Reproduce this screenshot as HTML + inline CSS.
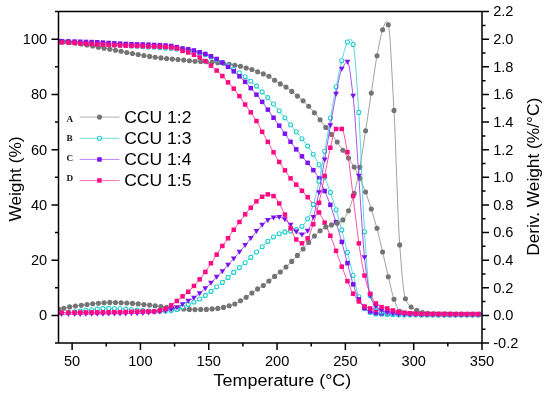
<!DOCTYPE html>
<html><head><meta charset="utf-8"><title>TGA</title>
<style>html,body{margin:0;padding:0;background:#fff}body{width:550px;height:394px;overflow:hidden}</style>
</head><body>
<svg width="550" height="394" viewBox="0 0 550 394" style="display:block">
<rect width="550" height="394" fill="#fff"/>
<defs><clipPath id="cp"><rect x="58.5" y="11.6" width="426.6" height="331.4"/></clipPath></defs>
<g clip-path="url(#cp)"><g transform="translate(0.3 0.3)">
<path d="M58.3 41.2 L64.6 41.6 L70.9 42.3 L77.2 43.0 L83.5 44.1 L89.8 45.2 L96.1 46.5 L102.2 47.6 L108.7 48.8 L115.0 49.9 L121.3 51.1 L127.6 52.4 L133.9 53.5 L140.2 54.6 L146.5 55.7 L152.8 56.6 L159.1 57.4 L165.4 58.3 L171.7 58.8 L178.0 59.3 L184.3 59.9 L190.6 60.6 L196.9 61.0 L203.2 61.3 L209.5 61.8 L215.8 62.3 L222.0 62.9 L228.4 63.8 L234.7 64.9 L241.0 66.1 L247.3 68.1 L252.2 69.4 L258.5 71.9 L264.8 74.3 L269.0 76.2 L275.3 80.6 L281.6 84.5 L286.5 87.3 L292.8 92.2 L299.1 97.4 L305.4 102.9 L311.7 109.6 L318.0 117.2 L324.3 125.5 L330.6 133.4 L336.9 141.7 L343.2 150.8 L349.5 159.7 L354.4 167.7 L360.0 178.9 L365.6 192.5 L371.9 211.7 L376.8 228.5 L383.1 255.0 L389.4 282.4 L392.2 294.0 L393.7 299.0 L396.4 306.2 L397.8 309.2 L398.5 310.3 L399.4 311.1 L402.0 312.2 L408.3 313.2 L414.6 313.6 L420.9 313.8 L427.2 313.9 L433.5 313.9 L439.8 313.9 L446.1 313.9 L452.4 314.0 L458.7 314.0 L465.0 314.0 L471.3 314.0 L477.6 314.0 L482.0 314.0" fill="none" stroke="#8a8a8a" stroke-width="0.8" stroke-linejoin="round"/>
<circle cx="58.3" cy="41.2" r="2.55" fill="#747474"/>
<circle cx="63.5" cy="41.5" r="2.55" fill="#747474"/>
<circle cx="69.3" cy="42.1" r="2.55" fill="#747474"/>
<circle cx="75.1" cy="42.8" r="2.55" fill="#747474"/>
<circle cx="81.0" cy="43.6" r="2.55" fill="#747474"/>
<circle cx="86.7" cy="44.7" r="2.55" fill="#747474"/>
<circle cx="92.4" cy="45.7" r="2.55" fill="#747474"/>
<circle cx="98.1" cy="46.9" r="2.55" fill="#747474"/>
<circle cx="103.8" cy="47.9" r="2.55" fill="#747474"/>
<circle cx="109.5" cy="48.9" r="2.55" fill="#747474"/>
<circle cx="115.2" cy="49.9" r="2.55" fill="#747474"/>
<circle cx="120.8" cy="51.0" r="2.55" fill="#747474"/>
<circle cx="126.5" cy="52.2" r="2.55" fill="#747474"/>
<circle cx="132.2" cy="53.2" r="2.55" fill="#747474"/>
<circle cx="137.9" cy="54.2" r="2.55" fill="#747474"/>
<circle cx="143.6" cy="55.2" r="2.55" fill="#747474"/>
<circle cx="149.3" cy="56.1" r="2.55" fill="#747474"/>
<circle cx="154.9" cy="56.9" r="2.55" fill="#747474"/>
<circle cx="160.6" cy="57.6" r="2.55" fill="#747474"/>
<circle cx="166.3" cy="58.3" r="2.55" fill="#747474"/>
<circle cx="172.0" cy="58.8" r="2.55" fill="#747474"/>
<circle cx="177.7" cy="59.3" r="2.55" fill="#747474"/>
<circle cx="183.4" cy="59.8" r="2.55" fill="#747474"/>
<circle cx="189.1" cy="60.4" r="2.55" fill="#747474"/>
<circle cx="194.7" cy="60.9" r="2.55" fill="#747474"/>
<circle cx="200.4" cy="61.2" r="2.55" fill="#747474"/>
<circle cx="206.1" cy="61.5" r="2.55" fill="#747474"/>
<circle cx="211.8" cy="62.0" r="2.55" fill="#747474"/>
<circle cx="217.5" cy="62.5" r="2.55" fill="#747474"/>
<circle cx="223.2" cy="63.0" r="2.55" fill="#747474"/>
<circle cx="228.9" cy="63.9" r="2.55" fill="#747474"/>
<circle cx="234.5" cy="64.9" r="2.55" fill="#747474"/>
<circle cx="240.2" cy="65.9" r="2.55" fill="#747474"/>
<circle cx="245.9" cy="67.7" r="2.55" fill="#747474"/>
<circle cx="251.6" cy="69.2" r="2.55" fill="#747474"/>
<circle cx="257.3" cy="71.5" r="2.55" fill="#747474"/>
<circle cx="263.0" cy="73.6" r="2.55" fill="#747474"/>
<circle cx="268.6" cy="76.0" r="2.55" fill="#747474"/>
<circle cx="274.3" cy="80.0" r="2.55" fill="#747474"/>
<circle cx="280.0" cy="83.6" r="2.55" fill="#747474"/>
<circle cx="285.7" cy="86.8" r="2.55" fill="#747474"/>
<circle cx="291.4" cy="91.1" r="2.55" fill="#747474"/>
<circle cx="297.1" cy="95.8" r="2.55" fill="#747474"/>
<circle cx="302.8" cy="100.5" r="2.55" fill="#747474"/>
<circle cx="308.4" cy="106.0" r="2.55" fill="#747474"/>
<circle cx="314.1" cy="112.5" r="2.55" fill="#747474"/>
<circle cx="319.8" cy="119.5" r="2.55" fill="#747474"/>
<circle cx="325.5" cy="127.1" r="2.55" fill="#747474"/>
<circle cx="331.2" cy="134.1" r="2.55" fill="#747474"/>
<circle cx="336.9" cy="141.7" r="2.55" fill="#747474"/>
<circle cx="342.6" cy="149.9" r="2.55" fill="#747474"/>
<circle cx="348.2" cy="157.8" r="2.55" fill="#747474"/>
<circle cx="353.9" cy="166.8" r="2.55" fill="#747474"/>
<circle cx="359.6" cy="178.0" r="2.55" fill="#747474"/>
<circle cx="365.3" cy="191.7" r="2.55" fill="#747474"/>
<circle cx="371.0" cy="208.7" r="2.55" fill="#747474"/>
<circle cx="376.7" cy="228.0" r="2.55" fill="#747474"/>
<circle cx="382.3" cy="251.7" r="2.55" fill="#747474"/>
<circle cx="388.0" cy="276.5" r="2.55" fill="#747474"/>
<circle cx="393.7" cy="299.0" r="2.55" fill="#747474"/>
<circle cx="399.4" cy="311.1" r="2.55" fill="#747474"/>
<circle cx="405.1" cy="312.9" r="2.55" fill="#747474"/>
<circle cx="410.8" cy="313.4" r="2.55" fill="#747474"/>
<circle cx="416.5" cy="313.7" r="2.55" fill="#747474"/>
<circle cx="422.1" cy="313.8" r="2.55" fill="#747474"/>
<circle cx="427.8" cy="313.9" r="2.55" fill="#747474"/>
<circle cx="433.5" cy="313.9" r="2.55" fill="#747474"/>
<circle cx="439.2" cy="313.9" r="2.55" fill="#747474"/>
<circle cx="444.9" cy="313.9" r="2.55" fill="#747474"/>
<circle cx="450.6" cy="314.0" r="2.55" fill="#747474"/>
<circle cx="456.3" cy="314.0" r="2.55" fill="#747474"/>
<circle cx="461.9" cy="314.0" r="2.55" fill="#747474"/>
<circle cx="467.6" cy="314.0" r="2.55" fill="#747474"/>
<circle cx="473.3" cy="314.0" r="2.55" fill="#747474"/>
<circle cx="479.0" cy="314.0" r="2.55" fill="#747474"/>
<path d="M58.5 41.5 L64.8 41.5 L71.1 41.7 L77.4 42.1 L83.7 42.5 L90.0 43.1 L96.3 43.6 L102.6 44.0 L108.9 44.3 L115.2 44.7 L121.5 45.1 L127.8 45.5 L134.1 45.8 L140.4 46.2 L146.7 46.6 L153.0 47.0 L159.3 47.4 L165.6 47.8 L171.9 48.3 L178.2 48.8 L184.5 49.6 L190.8 50.6 L197.1 52.0 L203.4 53.9 L209.7 56.4 L216.0 59.3 L222.3 62.3 L228.6 65.7 L234.9 69.9 L241.2 73.8 L247.5 78.6 L253.8 83.7 L260.1 89.8 L266.4 96.1 L272.7 103.1 L278.9 110.5 L285.3 118.4 L291.6 126.0 L297.9 133.8 L304.2 141.7 L310.5 150.2 L314.7 156.8 L321.0 169.3 L326.6 182.6 L332.9 200.4 L339.2 221.3 L345.5 245.5 L351.8 271.0 L356.7 290.7 L358.8 297.3 L360.9 302.5 L362.3 305.3 L363.7 307.5 L365.8 309.6 L367.9 311.1 L372.1 312.9 L374.9 313.5 L381.2 313.9 L387.5 314.2 L393.8 314.3 L400.1 314.3 L406.4 314.3 L412.7 314.3 L419.0 314.4 L425.3 314.4 L431.6 314.4 L437.9 314.4 L444.2 314.4 L450.5 314.4 L456.8 314.4 L463.1 314.4 L469.4 314.4 L475.7 314.4 L482.0 314.4 L482.0 314.4" fill="none" stroke="#30d0d0" stroke-width="0.8" stroke-linejoin="round"/>
<circle cx="61.2" cy="41.5" r="2.0" fill="#fff" stroke="#1fcfcf" stroke-width="1.1"/>
<circle cx="68.1" cy="41.6" r="2.0" fill="#fff" stroke="#1fcfcf" stroke-width="1.1"/>
<circle cx="74.3" cy="41.9" r="2.0" fill="#fff" stroke="#1fcfcf" stroke-width="1.1"/>
<circle cx="79.9" cy="42.3" r="2.0" fill="#fff" stroke="#1fcfcf" stroke-width="1.1"/>
<circle cx="85.6" cy="42.7" r="2.0" fill="#fff" stroke="#1fcfcf" stroke-width="1.1"/>
<circle cx="91.3" cy="43.2" r="2.0" fill="#fff" stroke="#1fcfcf" stroke-width="1.1"/>
<circle cx="97.0" cy="43.6" r="2.0" fill="#fff" stroke="#1fcfcf" stroke-width="1.1"/>
<circle cx="102.7" cy="44.0" r="2.0" fill="#fff" stroke="#1fcfcf" stroke-width="1.1"/>
<circle cx="108.4" cy="44.3" r="2.0" fill="#fff" stroke="#1fcfcf" stroke-width="1.1"/>
<circle cx="114.1" cy="44.6" r="2.0" fill="#fff" stroke="#1fcfcf" stroke-width="1.1"/>
<circle cx="119.7" cy="45.0" r="2.0" fill="#fff" stroke="#1fcfcf" stroke-width="1.1"/>
<circle cx="125.4" cy="45.3" r="2.0" fill="#fff" stroke="#1fcfcf" stroke-width="1.1"/>
<circle cx="131.1" cy="45.7" r="2.0" fill="#fff" stroke="#1fcfcf" stroke-width="1.1"/>
<circle cx="136.8" cy="46.0" r="2.0" fill="#fff" stroke="#1fcfcf" stroke-width="1.1"/>
<circle cx="142.5" cy="46.4" r="2.0" fill="#fff" stroke="#1fcfcf" stroke-width="1.1"/>
<circle cx="148.2" cy="46.7" r="2.0" fill="#fff" stroke="#1fcfcf" stroke-width="1.1"/>
<circle cx="153.8" cy="47.0" r="2.0" fill="#fff" stroke="#1fcfcf" stroke-width="1.1"/>
<circle cx="159.5" cy="47.4" r="2.0" fill="#fff" stroke="#1fcfcf" stroke-width="1.1"/>
<circle cx="165.2" cy="47.8" r="2.0" fill="#fff" stroke="#1fcfcf" stroke-width="1.1"/>
<circle cx="170.9" cy="48.2" r="2.0" fill="#fff" stroke="#1fcfcf" stroke-width="1.1"/>
<circle cx="176.6" cy="48.7" r="2.0" fill="#fff" stroke="#1fcfcf" stroke-width="1.1"/>
<circle cx="182.3" cy="49.3" r="2.0" fill="#fff" stroke="#1fcfcf" stroke-width="1.1"/>
<circle cx="188.0" cy="50.1" r="2.0" fill="#fff" stroke="#1fcfcf" stroke-width="1.1"/>
<circle cx="193.6" cy="51.2" r="2.0" fill="#fff" stroke="#1fcfcf" stroke-width="1.1"/>
<circle cx="199.3" cy="52.7" r="2.0" fill="#fff" stroke="#1fcfcf" stroke-width="1.1"/>
<circle cx="205.0" cy="54.5" r="2.0" fill="#fff" stroke="#1fcfcf" stroke-width="1.1"/>
<circle cx="210.7" cy="56.8" r="2.0" fill="#fff" stroke="#1fcfcf" stroke-width="1.1"/>
<circle cx="216.4" cy="59.5" r="2.0" fill="#fff" stroke="#1fcfcf" stroke-width="1.1"/>
<circle cx="222.1" cy="62.2" r="2.0" fill="#fff" stroke="#1fcfcf" stroke-width="1.1"/>
<circle cx="227.8" cy="65.2" r="2.0" fill="#fff" stroke="#1fcfcf" stroke-width="1.1"/>
<circle cx="233.4" cy="69.0" r="2.0" fill="#fff" stroke="#1fcfcf" stroke-width="1.1"/>
<circle cx="239.1" cy="72.4" r="2.0" fill="#fff" stroke="#1fcfcf" stroke-width="1.1"/>
<circle cx="244.8" cy="76.5" r="2.0" fill="#fff" stroke="#1fcfcf" stroke-width="1.1"/>
<circle cx="250.5" cy="81.0" r="2.0" fill="#fff" stroke="#1fcfcf" stroke-width="1.1"/>
<circle cx="256.2" cy="85.8" r="2.0" fill="#fff" stroke="#1fcfcf" stroke-width="1.1"/>
<circle cx="261.9" cy="91.6" r="2.0" fill="#fff" stroke="#1fcfcf" stroke-width="1.1"/>
<circle cx="267.5" cy="97.3" r="2.0" fill="#fff" stroke="#1fcfcf" stroke-width="1.1"/>
<circle cx="273.2" cy="103.7" r="2.0" fill="#fff" stroke="#1fcfcf" stroke-width="1.1"/>
<circle cx="278.9" cy="110.5" r="2.0" fill="#fff" stroke="#1fcfcf" stroke-width="1.1"/>
<circle cx="284.6" cy="117.5" r="2.0" fill="#fff" stroke="#1fcfcf" stroke-width="1.1"/>
<circle cx="290.3" cy="124.4" r="2.0" fill="#fff" stroke="#1fcfcf" stroke-width="1.1"/>
<circle cx="296.0" cy="131.4" r="2.0" fill="#fff" stroke="#1fcfcf" stroke-width="1.1"/>
<circle cx="301.7" cy="138.5" r="2.0" fill="#fff" stroke="#1fcfcf" stroke-width="1.1"/>
<circle cx="307.3" cy="145.8" r="2.0" fill="#fff" stroke="#1fcfcf" stroke-width="1.1"/>
<circle cx="313.0" cy="154.0" r="2.0" fill="#fff" stroke="#1fcfcf" stroke-width="1.1"/>
<circle cx="318.7" cy="164.5" r="2.0" fill="#fff" stroke="#1fcfcf" stroke-width="1.1"/>
<circle cx="324.4" cy="177.0" r="2.0" fill="#fff" stroke="#1fcfcf" stroke-width="1.1"/>
<circle cx="330.1" cy="192.1" r="2.0" fill="#fff" stroke="#1fcfcf" stroke-width="1.1"/>
<circle cx="335.8" cy="209.5" r="2.0" fill="#fff" stroke="#1fcfcf" stroke-width="1.1"/>
<circle cx="341.5" cy="229.6" r="2.0" fill="#fff" stroke="#1fcfcf" stroke-width="1.1"/>
<circle cx="347.1" cy="252.1" r="2.0" fill="#fff" stroke="#1fcfcf" stroke-width="1.1"/>
<circle cx="352.8" cy="275.0" r="2.0" fill="#fff" stroke="#1fcfcf" stroke-width="1.1"/>
<circle cx="358.5" cy="296.5" r="2.0" fill="#fff" stroke="#1fcfcf" stroke-width="1.1"/>
<circle cx="364.2" cy="308.1" r="2.0" fill="#fff" stroke="#1fcfcf" stroke-width="1.1"/>
<circle cx="369.9" cy="312.1" r="2.0" fill="#fff" stroke="#1fcfcf" stroke-width="1.1"/>
<circle cx="375.6" cy="313.6" r="2.0" fill="#fff" stroke="#1fcfcf" stroke-width="1.1"/>
<circle cx="381.2" cy="314.0" r="2.0" fill="#fff" stroke="#1fcfcf" stroke-width="1.1"/>
<circle cx="386.9" cy="314.2" r="2.0" fill="#fff" stroke="#1fcfcf" stroke-width="1.1"/>
<circle cx="392.6" cy="314.3" r="2.0" fill="#fff" stroke="#1fcfcf" stroke-width="1.1"/>
<circle cx="398.3" cy="314.3" r="2.0" fill="#fff" stroke="#1fcfcf" stroke-width="1.1"/>
<circle cx="404.0" cy="314.3" r="2.0" fill="#fff" stroke="#1fcfcf" stroke-width="1.1"/>
<circle cx="409.7" cy="314.3" r="2.0" fill="#fff" stroke="#1fcfcf" stroke-width="1.1"/>
<circle cx="415.4" cy="314.3" r="2.0" fill="#fff" stroke="#1fcfcf" stroke-width="1.1"/>
<circle cx="421.0" cy="314.4" r="2.0" fill="#fff" stroke="#1fcfcf" stroke-width="1.1"/>
<circle cx="426.7" cy="314.4" r="2.0" fill="#fff" stroke="#1fcfcf" stroke-width="1.1"/>
<circle cx="432.4" cy="314.4" r="2.0" fill="#fff" stroke="#1fcfcf" stroke-width="1.1"/>
<circle cx="438.1" cy="314.4" r="2.0" fill="#fff" stroke="#1fcfcf" stroke-width="1.1"/>
<circle cx="443.8" cy="314.4" r="2.0" fill="#fff" stroke="#1fcfcf" stroke-width="1.1"/>
<circle cx="449.5" cy="314.4" r="2.0" fill="#fff" stroke="#1fcfcf" stroke-width="1.1"/>
<circle cx="455.2" cy="314.4" r="2.0" fill="#fff" stroke="#1fcfcf" stroke-width="1.1"/>
<circle cx="460.8" cy="314.4" r="2.0" fill="#fff" stroke="#1fcfcf" stroke-width="1.1"/>
<circle cx="466.5" cy="314.4" r="2.0" fill="#fff" stroke="#1fcfcf" stroke-width="1.1"/>
<circle cx="472.2" cy="314.4" r="2.0" fill="#fff" stroke="#1fcfcf" stroke-width="1.1"/>
<circle cx="477.9" cy="314.4" r="2.0" fill="#fff" stroke="#1fcfcf" stroke-width="1.1"/>
<path d="M58.5 40.8 L64.8 40.9 L71.1 41.1 L77.4 41.3 L83.7 41.5 L90.0 41.7 L96.3 41.9 L102.6 42.2 L108.9 42.7 L115.2 43.1 L121.5 43.5 L127.8 43.7 L134.1 43.9 L140.4 44.1 L146.7 44.3 L153.0 44.6 L159.3 44.8 L165.6 45.2 L171.9 45.7 L178.2 47.2 L184.5 48.4 L190.8 49.4 L197.1 51.2 L203.4 53.1 L209.7 55.5 L216.0 58.4 L222.1 62.2 L228.6 67.1 L234.9 72.2 L241.2 77.9 L247.5 84.4 L253.8 91.5 L260.1 99.2 L266.4 107.7 L272.7 116.7 L278.9 125.3 L285.3 134.4 L291.6 143.3 L297.9 151.4 L304.2 158.9 L310.5 166.5 L316.8 174.9 L318.9 178.3 L325.2 192.6 L330.1 204.6 L336.4 223.9 L342.7 246.2 L349.0 270.0 L351.8 280.6 L355.3 291.3 L357.4 296.7 L360.2 302.2 L362.3 305.5 L363.7 307.2 L365.8 309.0 L368.6 310.6 L373.5 312.2 L379.8 313.0 L386.1 313.4 L392.4 313.6 L398.7 313.6 L405.0 313.7 L411.3 313.7 L417.6 313.7 L423.9 313.8 L430.2 313.8 L436.5 313.8 L442.8 313.8 L449.1 313.9 L455.4 313.9 L461.7 313.9 L468.0 313.9 L474.3 313.9 L480.6 313.9 L482.0 313.9" fill="none" stroke="#8a2cf2" stroke-width="0.8" stroke-linejoin="round"/>
<rect x="59.0" y="38.6" width="4.5" height="4.5" fill="#7d12f0"/>
<rect x="65.8" y="38.8" width="4.5" height="4.5" fill="#7d12f0"/>
<rect x="72.0" y="39.0" width="4.5" height="4.5" fill="#7d12f0"/>
<rect x="77.7" y="39.2" width="4.5" height="4.5" fill="#7d12f0"/>
<rect x="83.4" y="39.4" width="4.5" height="4.5" fill="#7d12f0"/>
<rect x="89.1" y="39.5" width="4.5" height="4.5" fill="#7d12f0"/>
<rect x="94.7" y="39.7" width="4.5" height="4.5" fill="#7d12f0"/>
<rect x="100.4" y="40.0" width="4.5" height="4.5" fill="#7d12f0"/>
<rect x="106.1" y="40.4" width="4.5" height="4.5" fill="#7d12f0"/>
<rect x="111.8" y="40.8" width="4.5" height="4.5" fill="#7d12f0"/>
<rect x="117.5" y="41.1" width="4.5" height="4.5" fill="#7d12f0"/>
<rect x="123.2" y="41.4" width="4.5" height="4.5" fill="#7d12f0"/>
<rect x="128.9" y="41.6" width="4.5" height="4.5" fill="#7d12f0"/>
<rect x="134.5" y="41.8" width="4.5" height="4.5" fill="#7d12f0"/>
<rect x="140.2" y="41.9" width="4.5" height="4.5" fill="#7d12f0"/>
<rect x="145.9" y="42.1" width="4.5" height="4.5" fill="#7d12f0"/>
<rect x="151.6" y="42.4" width="4.5" height="4.5" fill="#7d12f0"/>
<rect x="157.3" y="42.6" width="4.5" height="4.5" fill="#7d12f0"/>
<rect x="163.0" y="42.9" width="4.5" height="4.5" fill="#7d12f0"/>
<rect x="168.7" y="43.4" width="4.5" height="4.5" fill="#7d12f0"/>
<rect x="174.3" y="44.6" width="4.5" height="4.5" fill="#7d12f0"/>
<rect x="180.0" y="45.9" width="4.5" height="4.5" fill="#7d12f0"/>
<rect x="185.7" y="46.7" width="4.5" height="4.5" fill="#7d12f0"/>
<rect x="191.4" y="47.9" width="4.5" height="4.5" fill="#7d12f0"/>
<rect x="197.1" y="49.7" width="4.5" height="4.5" fill="#7d12f0"/>
<rect x="202.8" y="51.4" width="4.5" height="4.5" fill="#7d12f0"/>
<rect x="208.4" y="53.7" width="4.5" height="4.5" fill="#7d12f0"/>
<rect x="214.1" y="56.4" width="4.5" height="4.5" fill="#7d12f0"/>
<rect x="219.8" y="60.0" width="4.5" height="4.5" fill="#7d12f0"/>
<rect x="225.5" y="64.2" width="4.5" height="4.5" fill="#7d12f0"/>
<rect x="231.2" y="68.8" width="4.5" height="4.5" fill="#7d12f0"/>
<rect x="236.9" y="73.8" width="4.5" height="4.5" fill="#7d12f0"/>
<rect x="242.6" y="79.3" width="4.5" height="4.5" fill="#7d12f0"/>
<rect x="248.2" y="85.6" width="4.5" height="4.5" fill="#7d12f0"/>
<rect x="253.9" y="92.1" width="4.5" height="4.5" fill="#7d12f0"/>
<rect x="259.6" y="99.3" width="4.5" height="4.5" fill="#7d12f0"/>
<rect x="265.3" y="107.1" width="4.5" height="4.5" fill="#7d12f0"/>
<rect x="271.0" y="115.2" width="4.5" height="4.5" fill="#7d12f0"/>
<rect x="276.7" y="123.1" width="4.5" height="4.5" fill="#7d12f0"/>
<rect x="282.4" y="131.2" width="4.5" height="4.5" fill="#7d12f0"/>
<rect x="288.0" y="139.3" width="4.5" height="4.5" fill="#7d12f0"/>
<rect x="293.7" y="146.8" width="4.5" height="4.5" fill="#7d12f0"/>
<rect x="299.4" y="153.8" width="4.5" height="4.5" fill="#7d12f0"/>
<rect x="305.1" y="160.3" width="4.5" height="4.5" fill="#7d12f0"/>
<rect x="310.8" y="167.6" width="4.5" height="4.5" fill="#7d12f0"/>
<rect x="316.5" y="175.8" width="4.5" height="4.5" fill="#7d12f0"/>
<rect x="322.1" y="188.5" width="4.5" height="4.5" fill="#7d12f0"/>
<rect x="327.8" y="202.3" width="4.5" height="4.5" fill="#7d12f0"/>
<rect x="333.5" y="219.6" width="4.5" height="4.5" fill="#7d12f0"/>
<rect x="339.2" y="239.4" width="4.5" height="4.5" fill="#7d12f0"/>
<rect x="344.9" y="260.6" width="4.5" height="4.5" fill="#7d12f0"/>
<rect x="350.6" y="281.8" width="4.5" height="4.5" fill="#7d12f0"/>
<rect x="356.3" y="296.8" width="4.5" height="4.5" fill="#7d12f0"/>
<rect x="361.9" y="305.5" width="4.5" height="4.5" fill="#7d12f0"/>
<rect x="367.6" y="308.9" width="4.5" height="4.5" fill="#7d12f0"/>
<rect x="373.3" y="310.4" width="4.5" height="4.5" fill="#7d12f0"/>
<rect x="379.0" y="310.8" width="4.5" height="4.5" fill="#7d12f0"/>
<rect x="384.7" y="311.1" width="4.5" height="4.5" fill="#7d12f0"/>
<rect x="390.4" y="311.3" width="4.5" height="4.5" fill="#7d12f0"/>
<rect x="396.1" y="311.4" width="4.5" height="4.5" fill="#7d12f0"/>
<rect x="401.7" y="311.4" width="4.5" height="4.5" fill="#7d12f0"/>
<rect x="407.4" y="311.5" width="4.5" height="4.5" fill="#7d12f0"/>
<rect x="413.1" y="311.5" width="4.5" height="4.5" fill="#7d12f0"/>
<rect x="418.8" y="311.5" width="4.5" height="4.5" fill="#7d12f0"/>
<rect x="424.5" y="311.5" width="4.5" height="4.5" fill="#7d12f0"/>
<rect x="430.2" y="311.6" width="4.5" height="4.5" fill="#7d12f0"/>
<rect x="435.8" y="311.6" width="4.5" height="4.5" fill="#7d12f0"/>
<rect x="441.5" y="311.6" width="4.5" height="4.5" fill="#7d12f0"/>
<rect x="447.2" y="311.6" width="4.5" height="4.5" fill="#7d12f0"/>
<rect x="452.9" y="311.6" width="4.5" height="4.5" fill="#7d12f0"/>
<rect x="458.6" y="311.6" width="4.5" height="4.5" fill="#7d12f0"/>
<rect x="464.3" y="311.6" width="4.5" height="4.5" fill="#7d12f0"/>
<rect x="470.0" y="311.6" width="4.5" height="4.5" fill="#7d12f0"/>
<rect x="475.6" y="311.6" width="4.5" height="4.5" fill="#7d12f0"/>
<path d="M58.5 42.1 L64.8 42.1 L71.1 42.4 L77.4 42.8 L83.7 43.3 L90.0 43.7 L96.3 44.1 L102.6 44.4 L108.9 44.7 L115.2 44.9 L121.5 45.2 L127.8 45.4 L134.1 45.6 L140.4 45.8 L146.7 46.0 L153.0 46.3 L159.3 46.5 L165.6 46.8 L171.9 47.2 L176.8 48.2 L182.4 50.6 L188.7 52.4 L195.0 55.0 L201.3 58.2 L207.6 62.7 L213.9 68.0 L220.2 73.8 L226.5 80.6 L232.8 87.5 L239.1 95.8 L245.4 105.0 L251.7 113.8 L256.6 121.4 L262.9 133.3 L269.2 144.6 L275.5 156.0 L281.8 166.0 L288.1 175.1 L292.3 180.4 L298.6 187.1 L304.9 194.0 L311.2 201.7 L317.5 210.3 L322.4 218.4 L326.6 227.1 L332.9 242.7 L339.2 260.1 L345.5 276.8 L351.1 290.1 L353.2 294.0 L356.0 298.1 L360.9 303.6 L363.0 305.4 L365.1 306.5 L371.4 308.5 L377.7 309.9 L384.0 310.9 L390.3 311.6 L396.6 312.1 L402.9 312.7 L409.2 313.1 L415.5 313.5 L421.8 313.6 L428.1 313.7 L434.4 313.7 L440.7 313.8 L447.0 313.8 L453.3 313.8 L459.6 313.9 L465.9 313.9 L472.2 313.9 L478.5 313.9 L482.0 313.9" fill="none" stroke="#ff2a90" stroke-width="0.8" stroke-linejoin="round"/>
<rect x="59.0" y="39.9" width="4.5" height="4.5" fill="#ff0a84"/>
<rect x="65.8" y="40.0" width="4.5" height="4.5" fill="#ff0a84"/>
<rect x="72.0" y="40.3" width="4.5" height="4.5" fill="#ff0a84"/>
<rect x="77.7" y="40.8" width="4.5" height="4.5" fill="#ff0a84"/>
<rect x="83.4" y="41.1" width="4.5" height="4.5" fill="#ff0a84"/>
<rect x="89.1" y="41.5" width="4.5" height="4.5" fill="#ff0a84"/>
<rect x="94.7" y="41.8" width="4.5" height="4.5" fill="#ff0a84"/>
<rect x="100.4" y="42.1" width="4.5" height="4.5" fill="#ff0a84"/>
<rect x="106.1" y="42.4" width="4.5" height="4.5" fill="#ff0a84"/>
<rect x="111.8" y="42.6" width="4.5" height="4.5" fill="#ff0a84"/>
<rect x="117.5" y="42.9" width="4.5" height="4.5" fill="#ff0a84"/>
<rect x="123.2" y="43.1" width="4.5" height="4.5" fill="#ff0a84"/>
<rect x="128.9" y="43.3" width="4.5" height="4.5" fill="#ff0a84"/>
<rect x="134.5" y="43.4" width="4.5" height="4.5" fill="#ff0a84"/>
<rect x="140.2" y="43.6" width="4.5" height="4.5" fill="#ff0a84"/>
<rect x="145.9" y="43.9" width="4.5" height="4.5" fill="#ff0a84"/>
<rect x="151.6" y="44.0" width="4.5" height="4.5" fill="#ff0a84"/>
<rect x="157.3" y="44.2" width="4.5" height="4.5" fill="#ff0a84"/>
<rect x="163.0" y="44.5" width="4.5" height="4.5" fill="#ff0a84"/>
<rect x="168.7" y="44.9" width="4.5" height="4.5" fill="#ff0a84"/>
<rect x="174.3" y="45.9" width="4.5" height="4.5" fill="#ff0a84"/>
<rect x="180.0" y="48.4" width="4.5" height="4.5" fill="#ff0a84"/>
<rect x="185.7" y="49.9" width="4.5" height="4.5" fill="#ff0a84"/>
<rect x="191.4" y="52.2" width="4.5" height="4.5" fill="#ff0a84"/>
<rect x="197.1" y="54.9" width="4.5" height="4.5" fill="#ff0a84"/>
<rect x="202.8" y="58.5" width="4.5" height="4.5" fill="#ff0a84"/>
<rect x="208.4" y="63.0" width="4.5" height="4.5" fill="#ff0a84"/>
<rect x="214.1" y="68.0" width="4.5" height="4.5" fill="#ff0a84"/>
<rect x="219.8" y="73.5" width="4.5" height="4.5" fill="#ff0a84"/>
<rect x="225.5" y="79.8" width="4.5" height="4.5" fill="#ff0a84"/>
<rect x="231.2" y="86.1" width="4.5" height="4.5" fill="#ff0a84"/>
<rect x="236.9" y="93.6" width="4.5" height="4.5" fill="#ff0a84"/>
<rect x="242.6" y="102.0" width="4.5" height="4.5" fill="#ff0a84"/>
<rect x="248.2" y="109.8" width="4.5" height="4.5" fill="#ff0a84"/>
<rect x="253.9" y="118.5" width="4.5" height="4.5" fill="#ff0a84"/>
<rect x="259.6" y="129.2" width="4.5" height="4.5" fill="#ff0a84"/>
<rect x="265.3" y="139.3" width="4.5" height="4.5" fill="#ff0a84"/>
<rect x="271.0" y="149.8" width="4.5" height="4.5" fill="#ff0a84"/>
<rect x="276.7" y="159.4" width="4.5" height="4.5" fill="#ff0a84"/>
<rect x="282.4" y="167.8" width="4.5" height="4.5" fill="#ff0a84"/>
<rect x="288.0" y="175.8" width="4.5" height="4.5" fill="#ff0a84"/>
<rect x="293.7" y="182.1" width="4.5" height="4.5" fill="#ff0a84"/>
<rect x="299.4" y="188.2" width="4.5" height="4.5" fill="#ff0a84"/>
<rect x="305.1" y="194.6" width="4.5" height="4.5" fill="#ff0a84"/>
<rect x="310.8" y="201.9" width="4.5" height="4.5" fill="#ff0a84"/>
<rect x="316.5" y="209.9" width="4.5" height="4.5" fill="#ff0a84"/>
<rect x="322.1" y="220.1" width="4.5" height="4.5" fill="#ff0a84"/>
<rect x="327.8" y="233.2" width="4.5" height="4.5" fill="#ff0a84"/>
<rect x="333.5" y="248.3" width="4.5" height="4.5" fill="#ff0a84"/>
<rect x="339.2" y="264.1" width="4.5" height="4.5" fill="#ff0a84"/>
<rect x="344.9" y="278.6" width="4.5" height="4.5" fill="#ff0a84"/>
<rect x="350.6" y="291.2" width="4.5" height="4.5" fill="#ff0a84"/>
<rect x="356.3" y="298.9" width="4.5" height="4.5" fill="#ff0a84"/>
<rect x="361.9" y="303.9" width="4.5" height="4.5" fill="#ff0a84"/>
<rect x="367.6" y="305.9" width="4.5" height="4.5" fill="#ff0a84"/>
<rect x="373.3" y="307.3" width="4.5" height="4.5" fill="#ff0a84"/>
<rect x="379.0" y="308.2" width="4.5" height="4.5" fill="#ff0a84"/>
<rect x="384.7" y="309.0" width="4.5" height="4.5" fill="#ff0a84"/>
<rect x="390.4" y="309.5" width="4.5" height="4.5" fill="#ff0a84"/>
<rect x="396.1" y="310.0" width="4.5" height="4.5" fill="#ff0a84"/>
<rect x="401.7" y="310.5" width="4.5" height="4.5" fill="#ff0a84"/>
<rect x="407.4" y="310.9" width="4.5" height="4.5" fill="#ff0a84"/>
<rect x="413.1" y="311.2" width="4.5" height="4.5" fill="#ff0a84"/>
<rect x="418.8" y="311.4" width="4.5" height="4.5" fill="#ff0a84"/>
<rect x="424.5" y="311.4" width="4.5" height="4.5" fill="#ff0a84"/>
<rect x="430.2" y="311.5" width="4.5" height="4.5" fill="#ff0a84"/>
<rect x="435.8" y="311.5" width="4.5" height="4.5" fill="#ff0a84"/>
<rect x="441.5" y="311.5" width="4.5" height="4.5" fill="#ff0a84"/>
<rect x="447.2" y="311.6" width="4.5" height="4.5" fill="#ff0a84"/>
<rect x="452.9" y="311.6" width="4.5" height="4.5" fill="#ff0a84"/>
<rect x="458.6" y="311.6" width="4.5" height="4.5" fill="#ff0a84"/>
<rect x="464.3" y="311.6" width="4.5" height="4.5" fill="#ff0a84"/>
<rect x="470.0" y="311.6" width="4.5" height="4.5" fill="#ff0a84"/>
<rect x="475.6" y="311.6" width="4.5" height="4.5" fill="#ff0a84"/>
<path d="M58.3 308.8 L64.6 307.7 L70.9 306.3 L77.2 305.5 L83.5 304.7 L89.8 303.8 L96.1 303.2 L102.4 302.6 L108.7 302.1 L115.0 302.2 L121.3 302.4 L127.6 302.7 L133.9 303.2 L140.2 303.9 L146.5 304.5 L152.8 305.2 L159.1 306.0 L165.4 307.0 L171.7 307.7 L178.0 308.1 L184.3 308.8 L190.6 309.2 L196.9 309.2 L203.2 309.1 L209.5 308.8 L215.8 308.3 L222.1 307.3 L228.4 305.5 L234.5 303.7 L241.0 300.1 L247.3 295.9 L253.6 291.2 L259.9 287.1 L264.1 284.4 L270.4 279.3 L276.7 274.3 L283.0 269.1 L289.3 263.2 L295.6 256.7 L301.9 249.7 L308.2 242.4 L314.5 235.3 L320.1 230.2 L324.3 227.2 L330.6 224.8 L336.9 223.0 L339.7 221.7 L341.8 220.2 L343.2 219.0 L344.6 217.2 L346.7 213.6 L348.8 209.2 L350.9 203.5 L354.4 191.3 L357.2 179.2 L360.0 164.8 L366.3 123.9 L372.6 81.7 L376.1 58.6 L379.6 40.2 L381.0 34.0 L382.4 29.2 L384.5 23.2 L385.2 21.8 L385.9 21.1 L386.2 21.0 L386.6 21.2 L387.3 22.4 L388.0 24.4 L388.7 27.9 L389.4 34.6 L390.1 43.8 L394.3 122.0 L397.8 213.4 L398.5 229.1 L399.4 244.6 L401.3 269.0 L402.7 283.9 L403.4 289.8 L404.1 294.4 L404.8 297.6 L405.5 299.5 L406.9 302.2 L408.3 304.3 L411.1 307.0 L413.9 308.8 L420.2 311.7 L426.5 313.2 L432.8 313.6 L439.1 313.7 L445.4 313.8 L451.7 313.9 L458.0 313.9 L464.3 314.0 L470.6 314.0 L476.9 314.0 L482.0 314.0" fill="none" stroke="#8a8a8a" stroke-width="0.8" stroke-linejoin="round"/>
<circle cx="58.3" cy="308.8" r="2.55" fill="#747474"/>
<circle cx="63.5" cy="307.9" r="2.55" fill="#747474"/>
<circle cx="69.3" cy="306.6" r="2.55" fill="#747474"/>
<circle cx="75.1" cy="305.7" r="2.55" fill="#747474"/>
<circle cx="81.0" cy="305.0" r="2.55" fill="#747474"/>
<circle cx="86.7" cy="304.2" r="2.55" fill="#747474"/>
<circle cx="92.4" cy="303.5" r="2.55" fill="#747474"/>
<circle cx="98.1" cy="303.0" r="2.55" fill="#747474"/>
<circle cx="103.8" cy="302.5" r="2.55" fill="#747474"/>
<circle cx="109.5" cy="302.1" r="2.55" fill="#747474"/>
<circle cx="115.2" cy="302.2" r="2.55" fill="#747474"/>
<circle cx="120.8" cy="302.4" r="2.55" fill="#747474"/>
<circle cx="126.5" cy="302.7" r="2.55" fill="#747474"/>
<circle cx="132.2" cy="303.1" r="2.55" fill="#747474"/>
<circle cx="137.9" cy="303.6" r="2.55" fill="#747474"/>
<circle cx="143.6" cy="304.2" r="2.55" fill="#747474"/>
<circle cx="149.3" cy="304.8" r="2.55" fill="#747474"/>
<circle cx="154.9" cy="305.5" r="2.55" fill="#747474"/>
<circle cx="160.6" cy="306.2" r="2.55" fill="#747474"/>
<circle cx="166.3" cy="307.1" r="2.55" fill="#747474"/>
<circle cx="172.0" cy="307.7" r="2.55" fill="#747474"/>
<circle cx="177.7" cy="308.1" r="2.55" fill="#747474"/>
<circle cx="183.4" cy="308.7" r="2.55" fill="#747474"/>
<circle cx="189.1" cy="309.1" r="2.55" fill="#747474"/>
<circle cx="194.7" cy="309.3" r="2.55" fill="#747474"/>
<circle cx="200.4" cy="309.1" r="2.55" fill="#747474"/>
<circle cx="206.1" cy="309.1" r="2.55" fill="#747474"/>
<circle cx="211.8" cy="308.6" r="2.55" fill="#747474"/>
<circle cx="217.5" cy="308.1" r="2.55" fill="#747474"/>
<circle cx="223.2" cy="307.1" r="2.55" fill="#747474"/>
<circle cx="228.9" cy="305.4" r="2.55" fill="#747474"/>
<circle cx="234.5" cy="303.7" r="2.55" fill="#747474"/>
<circle cx="240.2" cy="300.5" r="2.55" fill="#747474"/>
<circle cx="245.9" cy="296.9" r="2.55" fill="#747474"/>
<circle cx="251.6" cy="292.7" r="2.55" fill="#747474"/>
<circle cx="257.3" cy="288.6" r="2.55" fill="#747474"/>
<circle cx="263.0" cy="285.2" r="2.55" fill="#747474"/>
<circle cx="268.6" cy="280.7" r="2.55" fill="#747474"/>
<circle cx="274.3" cy="276.1" r="2.55" fill="#747474"/>
<circle cx="280.0" cy="271.7" r="2.55" fill="#747474"/>
<circle cx="285.7" cy="266.7" r="2.55" fill="#747474"/>
<circle cx="291.4" cy="261.1" r="2.55" fill="#747474"/>
<circle cx="297.1" cy="255.1" r="2.55" fill="#747474"/>
<circle cx="302.8" cy="248.7" r="2.55" fill="#747474"/>
<circle cx="308.4" cy="242.1" r="2.55" fill="#747474"/>
<circle cx="314.1" cy="235.7" r="2.55" fill="#747474"/>
<circle cx="319.8" cy="230.4" r="2.55" fill="#747474"/>
<circle cx="325.5" cy="226.6" r="2.55" fill="#747474"/>
<circle cx="331.2" cy="224.6" r="2.55" fill="#747474"/>
<circle cx="336.9" cy="223.0" r="2.55" fill="#747474"/>
<circle cx="342.6" cy="219.6" r="2.55" fill="#747474"/>
<circle cx="348.2" cy="210.5" r="2.55" fill="#747474"/>
<circle cx="353.9" cy="193.1" r="2.55" fill="#747474"/>
<circle cx="359.6" cy="167.0" r="2.55" fill="#747474"/>
<circle cx="365.3" cy="130.5" r="2.55" fill="#747474"/>
<circle cx="371.0" cy="92.8" r="2.55" fill="#747474"/>
<circle cx="376.7" cy="55.5" r="2.55" fill="#747474"/>
<circle cx="382.3" cy="29.4" r="2.55" fill="#747474"/>
<circle cx="388.0" cy="24.4" r="2.55" fill="#747474"/>
<circle cx="393.7" cy="110.1" r="2.55" fill="#747474"/>
<circle cx="399.4" cy="244.6" r="2.55" fill="#747474"/>
<circle cx="405.1" cy="298.5" r="2.55" fill="#747474"/>
<circle cx="410.8" cy="306.7" r="2.55" fill="#747474"/>
<circle cx="416.5" cy="310.1" r="2.55" fill="#747474"/>
<circle cx="422.1" cy="312.3" r="2.55" fill="#747474"/>
<circle cx="427.8" cy="313.3" r="2.55" fill="#747474"/>
<circle cx="433.5" cy="313.6" r="2.55" fill="#747474"/>
<circle cx="439.2" cy="313.7" r="2.55" fill="#747474"/>
<circle cx="444.9" cy="313.8" r="2.55" fill="#747474"/>
<circle cx="450.6" cy="313.8" r="2.55" fill="#747474"/>
<circle cx="456.3" cy="313.9" r="2.55" fill="#747474"/>
<circle cx="461.9" cy="313.9" r="2.55" fill="#747474"/>
<circle cx="467.6" cy="314.0" r="2.55" fill="#747474"/>
<circle cx="473.3" cy="314.0" r="2.55" fill="#747474"/>
<circle cx="479.0" cy="314.0" r="2.55" fill="#747474"/>
<path d="M58.5 312.7 L64.8 312.3 L71.1 311.8 L77.4 311.1 L83.7 310.3 L90.0 309.5 L96.3 308.9 L102.6 308.3 L108.9 308.1 L115.2 308.3 L121.5 308.6 L127.8 309.0 L134.1 309.6 L140.4 310.2 L146.7 310.6 L153.0 310.9 L159.3 311.0 L165.6 310.8 L171.9 310.2 L177.5 308.8 L183.8 306.0 L190.1 303.2 L196.4 300.3 L202.7 296.6 L209.0 292.3 L215.3 287.4 L221.6 282.5 L227.8 277.1 L234.2 271.4 L240.5 266.1 L246.8 260.7 L253.1 254.6 L259.4 248.8 L265.7 242.8 L272.0 237.6 L277.6 234.0 L282.5 232.1 L288.8 231.0 L294.4 229.8 L297.2 228.8 L300.0 227.2 L302.1 225.6 L303.5 224.2 L305.6 221.3 L307.7 217.9 L309.8 213.3 L313.3 203.4 L315.4 195.7 L319.6 176.8 L325.9 142.4 L332.2 105.7 L338.5 73.2 L344.1 50.2 L345.5 45.5 L346.2 43.6 L347.1 41.7 L348.3 39.9 L349.0 39.1 L349.7 38.6 L350.1 38.5 L350.4 38.6 L351.1 39.5 L351.8 41.0 L352.8 44.1 L353.2 45.7 L353.9 50.3 L354.6 56.8 L356.0 74.2 L358.8 116.9 L360.2 145.1 L363.0 210.0 L364.4 234.5 L366.5 264.6 L367.9 281.3 L368.6 287.9 L369.3 292.8 L370.0 295.9 L371.4 300.0 L372.8 303.1 L374.2 305.4 L376.3 307.9 L378.4 309.8 L380.5 311.2 L386.1 312.9 L392.4 313.9 L398.7 314.5 L405.0 314.5 L411.3 314.5 L417.6 314.5 L423.9 314.6 L430.2 314.6 L436.5 314.6 L442.8 314.6 L449.1 314.6 L455.4 314.6 L461.7 314.6 L468.0 314.6 L474.3 314.6 L480.6 314.6 L482.0 314.6" fill="none" stroke="#30d0d0" stroke-width="0.8" stroke-linejoin="round"/>
<circle cx="61.2" cy="312.5" r="2.0" fill="#fff" stroke="#1fcfcf" stroke-width="1.1"/>
<circle cx="68.1" cy="312.0" r="2.0" fill="#fff" stroke="#1fcfcf" stroke-width="1.1"/>
<circle cx="74.3" cy="311.5" r="2.0" fill="#fff" stroke="#1fcfcf" stroke-width="1.1"/>
<circle cx="79.9" cy="310.8" r="2.0" fill="#fff" stroke="#1fcfcf" stroke-width="1.1"/>
<circle cx="85.6" cy="310.0" r="2.0" fill="#fff" stroke="#1fcfcf" stroke-width="1.1"/>
<circle cx="91.3" cy="309.4" r="2.0" fill="#fff" stroke="#1fcfcf" stroke-width="1.1"/>
<circle cx="97.0" cy="308.8" r="2.0" fill="#fff" stroke="#1fcfcf" stroke-width="1.1"/>
<circle cx="102.7" cy="308.3" r="2.0" fill="#fff" stroke="#1fcfcf" stroke-width="1.1"/>
<circle cx="108.4" cy="308.1" r="2.0" fill="#fff" stroke="#1fcfcf" stroke-width="1.1"/>
<circle cx="114.1" cy="308.2" r="2.0" fill="#fff" stroke="#1fcfcf" stroke-width="1.1"/>
<circle cx="119.7" cy="308.5" r="2.0" fill="#fff" stroke="#1fcfcf" stroke-width="1.1"/>
<circle cx="125.4" cy="308.8" r="2.0" fill="#fff" stroke="#1fcfcf" stroke-width="1.1"/>
<circle cx="131.1" cy="309.2" r="2.0" fill="#fff" stroke="#1fcfcf" stroke-width="1.1"/>
<circle cx="136.8" cy="309.8" r="2.0" fill="#fff" stroke="#1fcfcf" stroke-width="1.1"/>
<circle cx="142.5" cy="310.3" r="2.0" fill="#fff" stroke="#1fcfcf" stroke-width="1.1"/>
<circle cx="148.2" cy="310.7" r="2.0" fill="#fff" stroke="#1fcfcf" stroke-width="1.1"/>
<circle cx="153.8" cy="310.9" r="2.0" fill="#fff" stroke="#1fcfcf" stroke-width="1.1"/>
<circle cx="159.5" cy="311.0" r="2.0" fill="#fff" stroke="#1fcfcf" stroke-width="1.1"/>
<circle cx="165.2" cy="310.8" r="2.0" fill="#fff" stroke="#1fcfcf" stroke-width="1.1"/>
<circle cx="170.9" cy="310.3" r="2.0" fill="#fff" stroke="#1fcfcf" stroke-width="1.1"/>
<circle cx="176.6" cy="309.1" r="2.0" fill="#fff" stroke="#1fcfcf" stroke-width="1.1"/>
<circle cx="182.3" cy="306.7" r="2.0" fill="#fff" stroke="#1fcfcf" stroke-width="1.1"/>
<circle cx="188.0" cy="304.1" r="2.0" fill="#fff" stroke="#1fcfcf" stroke-width="1.1"/>
<circle cx="193.6" cy="301.7" r="2.0" fill="#fff" stroke="#1fcfcf" stroke-width="1.1"/>
<circle cx="199.3" cy="298.7" r="2.0" fill="#fff" stroke="#1fcfcf" stroke-width="1.1"/>
<circle cx="205.0" cy="295.1" r="2.0" fill="#fff" stroke="#1fcfcf" stroke-width="1.1"/>
<circle cx="210.7" cy="291.1" r="2.0" fill="#fff" stroke="#1fcfcf" stroke-width="1.1"/>
<circle cx="216.4" cy="286.5" r="2.0" fill="#fff" stroke="#1fcfcf" stroke-width="1.1"/>
<circle cx="222.1" cy="282.1" r="2.0" fill="#fff" stroke="#1fcfcf" stroke-width="1.1"/>
<circle cx="227.8" cy="277.1" r="2.0" fill="#fff" stroke="#1fcfcf" stroke-width="1.1"/>
<circle cx="233.4" cy="272.1" r="2.0" fill="#fff" stroke="#1fcfcf" stroke-width="1.1"/>
<circle cx="239.1" cy="267.3" r="2.0" fill="#fff" stroke="#1fcfcf" stroke-width="1.1"/>
<circle cx="244.8" cy="262.5" r="2.0" fill="#fff" stroke="#1fcfcf" stroke-width="1.1"/>
<circle cx="250.5" cy="257.1" r="2.0" fill="#fff" stroke="#1fcfcf" stroke-width="1.1"/>
<circle cx="256.2" cy="251.7" r="2.0" fill="#fff" stroke="#1fcfcf" stroke-width="1.1"/>
<circle cx="261.9" cy="246.5" r="2.0" fill="#fff" stroke="#1fcfcf" stroke-width="1.1"/>
<circle cx="267.5" cy="241.1" r="2.0" fill="#fff" stroke="#1fcfcf" stroke-width="1.1"/>
<circle cx="273.2" cy="236.7" r="2.0" fill="#fff" stroke="#1fcfcf" stroke-width="1.1"/>
<circle cx="278.9" cy="233.4" r="2.0" fill="#fff" stroke="#1fcfcf" stroke-width="1.1"/>
<circle cx="284.6" cy="231.6" r="2.0" fill="#fff" stroke="#1fcfcf" stroke-width="1.1"/>
<circle cx="290.3" cy="230.8" r="2.0" fill="#fff" stroke="#1fcfcf" stroke-width="1.1"/>
<circle cx="296.0" cy="229.3" r="2.0" fill="#fff" stroke="#1fcfcf" stroke-width="1.1"/>
<circle cx="301.7" cy="226.0" r="2.0" fill="#fff" stroke="#1fcfcf" stroke-width="1.1"/>
<circle cx="307.3" cy="218.5" r="2.0" fill="#fff" stroke="#1fcfcf" stroke-width="1.1"/>
<circle cx="313.0" cy="204.3" r="2.0" fill="#fff" stroke="#1fcfcf" stroke-width="1.1"/>
<circle cx="318.7" cy="181.0" r="2.0" fill="#fff" stroke="#1fcfcf" stroke-width="1.1"/>
<circle cx="324.4" cy="151.0" r="2.0" fill="#fff" stroke="#1fcfcf" stroke-width="1.1"/>
<circle cx="330.1" cy="117.7" r="2.0" fill="#fff" stroke="#1fcfcf" stroke-width="1.1"/>
<circle cx="335.8" cy="86.5" r="2.0" fill="#fff" stroke="#1fcfcf" stroke-width="1.1"/>
<circle cx="341.5" cy="60.5" r="2.0" fill="#fff" stroke="#1fcfcf" stroke-width="1.1"/>
<circle cx="347.1" cy="41.7" r="2.0" fill="#fff" stroke="#1fcfcf" stroke-width="1.1"/>
<circle cx="352.8" cy="44.1" r="2.0" fill="#fff" stroke="#1fcfcf" stroke-width="1.1"/>
<circle cx="358.5" cy="112.1" r="2.0" fill="#fff" stroke="#1fcfcf" stroke-width="1.1"/>
<circle cx="364.2" cy="231.4" r="2.0" fill="#fff" stroke="#1fcfcf" stroke-width="1.1"/>
<circle cx="369.9" cy="295.5" r="2.0" fill="#fff" stroke="#1fcfcf" stroke-width="1.1"/>
<circle cx="375.6" cy="307.1" r="2.0" fill="#fff" stroke="#1fcfcf" stroke-width="1.1"/>
<circle cx="381.2" cy="311.5" r="2.0" fill="#fff" stroke="#1fcfcf" stroke-width="1.1"/>
<circle cx="386.9" cy="313.1" r="2.0" fill="#fff" stroke="#1fcfcf" stroke-width="1.1"/>
<circle cx="392.6" cy="313.9" r="2.0" fill="#fff" stroke="#1fcfcf" stroke-width="1.1"/>
<circle cx="398.3" cy="314.5" r="2.0" fill="#fff" stroke="#1fcfcf" stroke-width="1.1"/>
<circle cx="404.0" cy="314.5" r="2.0" fill="#fff" stroke="#1fcfcf" stroke-width="1.1"/>
<circle cx="409.7" cy="314.5" r="2.0" fill="#fff" stroke="#1fcfcf" stroke-width="1.1"/>
<circle cx="415.4" cy="314.5" r="2.0" fill="#fff" stroke="#1fcfcf" stroke-width="1.1"/>
<circle cx="421.0" cy="314.6" r="2.0" fill="#fff" stroke="#1fcfcf" stroke-width="1.1"/>
<circle cx="426.7" cy="314.6" r="2.0" fill="#fff" stroke="#1fcfcf" stroke-width="1.1"/>
<circle cx="432.4" cy="314.6" r="2.0" fill="#fff" stroke="#1fcfcf" stroke-width="1.1"/>
<circle cx="438.1" cy="314.6" r="2.0" fill="#fff" stroke="#1fcfcf" stroke-width="1.1"/>
<circle cx="443.8" cy="314.6" r="2.0" fill="#fff" stroke="#1fcfcf" stroke-width="1.1"/>
<circle cx="449.5" cy="314.6" r="2.0" fill="#fff" stroke="#1fcfcf" stroke-width="1.1"/>
<circle cx="455.2" cy="314.6" r="2.0" fill="#fff" stroke="#1fcfcf" stroke-width="1.1"/>
<circle cx="460.8" cy="314.6" r="2.0" fill="#fff" stroke="#1fcfcf" stroke-width="1.1"/>
<circle cx="466.5" cy="314.6" r="2.0" fill="#fff" stroke="#1fcfcf" stroke-width="1.1"/>
<circle cx="472.2" cy="314.6" r="2.0" fill="#fff" stroke="#1fcfcf" stroke-width="1.1"/>
<circle cx="477.9" cy="314.6" r="2.0" fill="#fff" stroke="#1fcfcf" stroke-width="1.1"/>
<path d="M58.5 314.0 L64.8 314.0 L71.1 313.9 L77.4 313.8 L83.7 313.8 L90.0 313.7 L96.3 313.6 L102.6 313.6 L108.9 313.5 L115.2 313.4 L121.5 313.4 L127.8 313.3 L134.1 313.1 L140.4 313.0 L146.7 312.6 L153.0 312.1 L159.3 311.4 L165.6 310.4 L171.9 308.8 L177.5 306.7 L183.8 303.2 L190.1 299.6 L193.6 297.7 L199.9 292.6 L206.2 287.0 L212.5 280.8 L218.8 274.3 L225.1 267.7 L231.4 260.6 L237.7 253.3 L244.0 246.0 L250.3 238.1 L256.6 230.5 L262.2 224.3 L265.7 221.1 L269.9 218.5 L272.0 217.7 L278.3 217.0 L279.7 217.1 L281.1 217.4 L284.6 219.2 L286.0 220.2 L290.9 225.3 L294.4 229.8 L296.0 231.3 L299.3 233.7 L300.7 234.3 L301.7 234.4 L302.8 234.2 L304.2 233.5 L306.3 231.7 L307.7 230.2 L308.4 229.1 L309.8 226.2 L313.3 216.1 L314.7 210.9 L318.9 191.1 L325.2 154.5 L331.5 116.9 L337.8 83.1 L339.2 76.3 L339.9 73.3 L340.6 70.9 L341.4 68.7 L343.4 65.2 L344.8 63.2 L345.5 62.5 L346.2 62.0 L347.1 61.7 L347.6 62.1 L348.3 63.8 L349.0 66.8 L349.7 70.9 L353.2 99.1 L354.6 115.8 L360.9 212.9 L363.0 243.9 L364.4 259.0 L366.5 276.6 L367.9 286.2 L368.6 290.0 L369.3 293.2 L370.0 295.6 L371.4 299.2 L372.8 302.1 L374.2 304.4 L376.3 306.9 L378.4 308.8 L380.5 310.1 L386.1 312.2 L392.4 313.4 L398.7 314.3 L405.0 314.3 L411.3 314.4 L417.6 314.4 L423.9 314.5 L430.2 314.5 L436.5 314.5 L442.8 314.6 L449.1 314.6 L455.4 314.6 L461.7 314.6 L468.0 314.6 L474.3 314.6 L480.6 314.6 L482.0 314.6" fill="none" stroke="#8a2cf2" stroke-width="0.8" stroke-linejoin="round"/>
<path d="M58.30 311.78 h5.8 l-2.9 5z" fill="#7d12f0"/>
<path d="M65.20 311.73 h5.8 l-2.9 5z" fill="#7d12f0"/>
<path d="M71.40 311.67 h5.8 l-2.9 5z" fill="#7d12f0"/>
<path d="M77.04 311.62 h5.8 l-2.9 5z" fill="#7d12f0"/>
<path d="M82.73 311.56 h5.8 l-2.9 5z" fill="#7d12f0"/>
<path d="M88.41 311.50 h5.8 l-2.9 5z" fill="#7d12f0"/>
<path d="M94.10 311.43 h5.8 l-2.9 5z" fill="#7d12f0"/>
<path d="M99.78 311.37 h5.8 l-2.9 5z" fill="#7d12f0"/>
<path d="M105.47 311.31 h5.8 l-2.9 5z" fill="#7d12f0"/>
<path d="M111.15 311.25 h5.8 l-2.9 5z" fill="#7d12f0"/>
<path d="M116.84 311.18 h5.8 l-2.9 5z" fill="#7d12f0"/>
<path d="M122.52 311.11 h5.8 l-2.9 5z" fill="#7d12f0"/>
<path d="M128.21 311.01 h5.8 l-2.9 5z" fill="#7d12f0"/>
<path d="M133.89 310.88 h5.8 l-2.9 5z" fill="#7d12f0"/>
<path d="M139.58 310.70 h5.8 l-2.9 5z" fill="#7d12f0"/>
<path d="M145.26 310.32 h5.8 l-2.9 5z" fill="#7d12f0"/>
<path d="M150.95 309.80 h5.8 l-2.9 5z" fill="#7d12f0"/>
<path d="M156.63 309.17 h5.8 l-2.9 5z" fill="#7d12f0"/>
<path d="M162.32 308.30 h5.8 l-2.9 5z" fill="#7d12f0"/>
<path d="M168.00 306.90 h5.8 l-2.9 5z" fill="#7d12f0"/>
<path d="M173.69 304.90 h5.8 l-2.9 5z" fill="#7d12f0"/>
<path d="M179.37 301.90 h5.8 l-2.9 5z" fill="#7d12f0"/>
<path d="M185.06 298.50 h5.8 l-2.9 5z" fill="#7d12f0"/>
<path d="M190.74 295.50 h5.8 l-2.9 5z" fill="#7d12f0"/>
<path d="M196.43 290.90 h5.8 l-2.9 5z" fill="#7d12f0"/>
<path d="M202.11 285.90 h5.8 l-2.9 5z" fill="#7d12f0"/>
<path d="M207.80 280.50 h5.8 l-2.9 5z" fill="#7d12f0"/>
<path d="M213.48 274.50 h5.8 l-2.9 5z" fill="#7d12f0"/>
<path d="M219.17 268.90 h5.8 l-2.9 5z" fill="#7d12f0"/>
<path d="M224.85 262.40 h5.8 l-2.9 5z" fill="#7d12f0"/>
<path d="M230.54 256.20 h5.8 l-2.9 5z" fill="#7d12f0"/>
<path d="M236.22 249.40 h5.8 l-2.9 5z" fill="#7d12f0"/>
<path d="M241.91 242.80 h5.8 l-2.9 5z" fill="#7d12f0"/>
<path d="M247.59 235.70 h5.8 l-2.9 5z" fill="#7d12f0"/>
<path d="M253.28 228.80 h5.8 l-2.9 5z" fill="#7d12f0"/>
<path d="M258.96 222.40 h5.8 l-2.9 5z" fill="#7d12f0"/>
<path d="M264.65 217.60 h5.8 l-2.9 5z" fill="#7d12f0"/>
<path d="M270.33 215.20 h5.8 l-2.9 5z" fill="#7d12f0"/>
<path d="M276.02 214.80 h5.8 l-2.9 5z" fill="#7d12f0"/>
<path d="M281.70 217.00 h5.8 l-2.9 5z" fill="#7d12f0"/>
<path d="M287.39 222.40 h5.8 l-2.9 5z" fill="#7d12f0"/>
<path d="M293.07 229.10 h5.8 l-2.9 5z" fill="#7d12f0"/>
<path d="M298.76 232.20 h5.8 l-2.9 5z" fill="#7d12f0"/>
<path d="M304.44 228.40 h5.8 l-2.9 5z" fill="#7d12f0"/>
<path d="M310.13 214.80 h5.8 l-2.9 5z" fill="#7d12f0"/>
<path d="M315.81 189.90 h5.8 l-2.9 5z" fill="#7d12f0"/>
<path d="M321.50 157.10 h5.8 l-2.9 5z" fill="#7d12f0"/>
<path d="M327.18 122.90 h5.8 l-2.9 5z" fill="#7d12f0"/>
<path d="M332.87 91.40 h5.8 l-2.9 5z" fill="#7d12f0"/>
<path d="M338.55 66.50 h5.8 l-2.9 5z" fill="#7d12f0"/>
<path d="M344.24 59.50 h5.8 l-2.9 5z" fill="#7d12f0"/>
<path d="M349.92 93.40 h5.8 l-2.9 5z" fill="#7d12f0"/>
<path d="M355.61 173.50 h5.8 l-2.9 5z" fill="#7d12f0"/>
<path d="M361.29 254.90 h5.8 l-2.9 5z" fill="#7d12f0"/>
<path d="M366.98 293.00 h5.8 l-2.9 5z" fill="#7d12f0"/>
<path d="M372.66 303.90 h5.8 l-2.9 5z" fill="#7d12f0"/>
<path d="M378.35 308.30 h5.8 l-2.9 5z" fill="#7d12f0"/>
<path d="M384.03 310.16 h5.8 l-2.9 5z" fill="#7d12f0"/>
<path d="M389.72 311.27 h5.8 l-2.9 5z" fill="#7d12f0"/>
<path d="M395.40 312.03 h5.8 l-2.9 5z" fill="#7d12f0"/>
<path d="M401.09 312.14 h5.8 l-2.9 5z" fill="#7d12f0"/>
<path d="M406.77 312.18 h5.8 l-2.9 5z" fill="#7d12f0"/>
<path d="M412.46 312.22 h5.8 l-2.9 5z" fill="#7d12f0"/>
<path d="M418.14 312.26 h5.8 l-2.9 5z" fill="#7d12f0"/>
<path d="M423.83 312.29 h5.8 l-2.9 5z" fill="#7d12f0"/>
<path d="M429.51 312.32 h5.8 l-2.9 5z" fill="#7d12f0"/>
<path d="M435.20 312.34 h5.8 l-2.9 5z" fill="#7d12f0"/>
<path d="M440.88 312.36 h5.8 l-2.9 5z" fill="#7d12f0"/>
<path d="M446.57 312.37 h5.8 l-2.9 5z" fill="#7d12f0"/>
<path d="M452.25 312.38 h5.8 l-2.9 5z" fill="#7d12f0"/>
<path d="M457.94 312.39 h5.8 l-2.9 5z" fill="#7d12f0"/>
<path d="M463.62 312.39 h5.8 l-2.9 5z" fill="#7d12f0"/>
<path d="M469.31 312.40 h5.8 l-2.9 5z" fill="#7d12f0"/>
<path d="M474.99 312.40 h5.8 l-2.9 5z" fill="#7d12f0"/>
<path d="M58.5 312.3 L64.8 312.3 L71.1 312.3 L77.4 312.2 L83.7 312.2 L90.0 312.1 L96.3 312.0 L102.6 312.0 L108.9 311.9 L115.2 311.8 L121.5 311.7 L127.8 311.5 L134.1 311.4 L140.4 311.1 L146.7 311.1 L153.0 311.1 L155.8 310.9 L162.1 309.5 L165.6 308.3 L171.9 304.4 L178.2 299.4 L184.5 294.3 L189.4 290.1 L195.7 283.4 L202.0 275.7 L208.3 266.7 L214.6 257.1 L220.9 247.4 L227.2 238.8 L233.4 229.5 L239.8 220.8 L246.1 212.5 L252.4 205.3 L256.6 200.7 L260.1 197.7 L265.0 194.7 L266.4 194.2 L267.8 194.0 L269.9 194.4 L273.4 195.8 L274.1 196.3 L275.5 197.8 L279.7 204.4 L284.6 214.3 L290.9 229.4 L293.7 235.5 L295.1 238.0 L297.9 241.0 L299.3 242.2 L300.7 242.9 L301.7 243.1 L302.1 243.1 L302.8 242.8 L303.5 242.4 L304.9 241.1 L307.7 237.6 L309.1 234.9 L313.3 223.2 L316.1 213.2 L320.3 195.5 L326.6 164.3 L329.4 150.4 L332.9 135.4 L333.6 132.8 L334.3 130.7 L335.0 129.3 L335.8 128.7 L341.4 128.7 L342.0 129.1 L342.7 130.4 L343.4 132.6 L344.8 139.0 L347.6 154.4 L349.0 164.1 L355.3 217.1 L358.8 245.0 L361.6 262.4 L363.7 273.1 L366.5 283.9 L368.6 290.3 L371.4 296.7 L373.5 300.5 L374.9 302.4 L377.0 304.3 L379.1 305.7 L381.2 306.7 L387.5 308.3 L393.8 310.4 L400.1 311.9 L406.4 312.7 L412.7 313.3 L419.0 313.6 L425.3 313.7 L431.6 313.7 L437.9 313.8 L444.2 313.8 L450.5 313.8 L456.8 313.9 L463.1 313.9 L469.4 313.9 L475.7 313.9 L482.0 313.9 L482.0 313.9" fill="none" stroke="#ff2a90" stroke-width="0.8" stroke-linejoin="round"/>
<rect x="59.0" y="310.0" width="4.5" height="4.5" fill="#ff0a84"/>
<rect x="65.8" y="310.0" width="4.5" height="4.5" fill="#ff0a84"/>
<rect x="72.0" y="310.0" width="4.5" height="4.5" fill="#ff0a84"/>
<rect x="77.7" y="309.9" width="4.5" height="4.5" fill="#ff0a84"/>
<rect x="83.4" y="309.9" width="4.5" height="4.5" fill="#ff0a84"/>
<rect x="89.1" y="309.8" width="4.5" height="4.5" fill="#ff0a84"/>
<rect x="94.7" y="309.8" width="4.5" height="4.5" fill="#ff0a84"/>
<rect x="100.4" y="309.7" width="4.5" height="4.5" fill="#ff0a84"/>
<rect x="106.1" y="309.6" width="4.5" height="4.5" fill="#ff0a84"/>
<rect x="111.8" y="309.6" width="4.5" height="4.5" fill="#ff0a84"/>
<rect x="117.5" y="309.5" width="4.5" height="4.5" fill="#ff0a84"/>
<rect x="123.2" y="309.4" width="4.5" height="4.5" fill="#ff0a84"/>
<rect x="128.9" y="309.2" width="4.5" height="4.5" fill="#ff0a84"/>
<rect x="134.5" y="309.0" width="4.5" height="4.5" fill="#ff0a84"/>
<rect x="140.2" y="308.9" width="4.5" height="4.5" fill="#ff0a84"/>
<rect x="145.9" y="308.9" width="4.5" height="4.5" fill="#ff0a84"/>
<rect x="151.6" y="308.9" width="4.5" height="4.5" fill="#ff0a84"/>
<rect x="157.3" y="307.9" width="4.5" height="4.5" fill="#ff0a84"/>
<rect x="163.0" y="306.2" width="4.5" height="4.5" fill="#ff0a84"/>
<rect x="168.7" y="302.8" width="4.5" height="4.5" fill="#ff0a84"/>
<rect x="174.3" y="298.4" width="4.5" height="4.5" fill="#ff0a84"/>
<rect x="180.0" y="293.8" width="4.5" height="4.5" fill="#ff0a84"/>
<rect x="185.7" y="289.2" width="4.5" height="4.5" fill="#ff0a84"/>
<rect x="191.4" y="283.4" width="4.5" height="4.5" fill="#ff0a84"/>
<rect x="197.1" y="276.8" width="4.5" height="4.5" fill="#ff0a84"/>
<rect x="202.8" y="269.4" width="4.5" height="4.5" fill="#ff0a84"/>
<rect x="208.4" y="260.7" width="4.5" height="4.5" fill="#ff0a84"/>
<rect x="214.1" y="252.1" width="4.5" height="4.5" fill="#ff0a84"/>
<rect x="219.8" y="243.4" width="4.5" height="4.5" fill="#ff0a84"/>
<rect x="225.5" y="235.7" width="4.5" height="4.5" fill="#ff0a84"/>
<rect x="231.2" y="227.2" width="4.5" height="4.5" fill="#ff0a84"/>
<rect x="236.9" y="219.4" width="4.5" height="4.5" fill="#ff0a84"/>
<rect x="242.6" y="211.8" width="4.5" height="4.5" fill="#ff0a84"/>
<rect x="248.2" y="205.2" width="4.5" height="4.5" fill="#ff0a84"/>
<rect x="253.9" y="198.8" width="4.5" height="4.5" fill="#ff0a84"/>
<rect x="259.6" y="194.2" width="4.5" height="4.5" fill="#ff0a84"/>
<rect x="265.3" y="191.8" width="4.5" height="4.5" fill="#ff0a84"/>
<rect x="271.0" y="193.5" width="4.5" height="4.5" fill="#ff0a84"/>
<rect x="276.7" y="200.9" width="4.5" height="4.5" fill="#ff0a84"/>
<rect x="282.4" y="212.1" width="4.5" height="4.5" fill="#ff0a84"/>
<rect x="288.0" y="225.8" width="4.5" height="4.5" fill="#ff0a84"/>
<rect x="293.7" y="236.9" width="4.5" height="4.5" fill="#ff0a84"/>
<rect x="299.4" y="240.8" width="4.5" height="4.5" fill="#ff0a84"/>
<rect x="305.1" y="235.8" width="4.5" height="4.5" fill="#ff0a84"/>
<rect x="310.8" y="221.7" width="4.5" height="4.5" fill="#ff0a84"/>
<rect x="316.5" y="200.2" width="4.5" height="4.5" fill="#ff0a84"/>
<rect x="322.1" y="173.4" width="4.5" height="4.5" fill="#ff0a84"/>
<rect x="327.8" y="145.2" width="4.5" height="4.5" fill="#ff0a84"/>
<rect x="333.5" y="126.4" width="4.5" height="4.5" fill="#ff0a84"/>
<rect x="339.2" y="126.4" width="4.5" height="4.5" fill="#ff0a84"/>
<rect x="344.9" y="149.6" width="4.5" height="4.5" fill="#ff0a84"/>
<rect x="350.6" y="193.5" width="4.5" height="4.5" fill="#ff0a84"/>
<rect x="356.3" y="240.8" width="4.5" height="4.5" fill="#ff0a84"/>
<rect x="361.9" y="273.0" width="4.5" height="4.5" fill="#ff0a84"/>
<rect x="367.6" y="291.2" width="4.5" height="4.5" fill="#ff0a84"/>
<rect x="373.3" y="300.9" width="4.5" height="4.5" fill="#ff0a84"/>
<rect x="379.0" y="304.5" width="4.5" height="4.5" fill="#ff0a84"/>
<rect x="384.7" y="305.9" width="4.5" height="4.5" fill="#ff0a84"/>
<rect x="390.4" y="307.9" width="4.5" height="4.5" fill="#ff0a84"/>
<rect x="396.1" y="309.3" width="4.5" height="4.5" fill="#ff0a84"/>
<rect x="401.7" y="310.2" width="4.5" height="4.5" fill="#ff0a84"/>
<rect x="407.4" y="310.8" width="4.5" height="4.5" fill="#ff0a84"/>
<rect x="413.1" y="311.2" width="4.5" height="4.5" fill="#ff0a84"/>
<rect x="418.8" y="311.4" width="4.5" height="4.5" fill="#ff0a84"/>
<rect x="424.5" y="311.4" width="4.5" height="4.5" fill="#ff0a84"/>
<rect x="430.2" y="311.5" width="4.5" height="4.5" fill="#ff0a84"/>
<rect x="435.8" y="311.5" width="4.5" height="4.5" fill="#ff0a84"/>
<rect x="441.5" y="311.5" width="4.5" height="4.5" fill="#ff0a84"/>
<rect x="447.2" y="311.6" width="4.5" height="4.5" fill="#ff0a84"/>
<rect x="452.9" y="311.6" width="4.5" height="4.5" fill="#ff0a84"/>
<rect x="458.6" y="311.6" width="4.5" height="4.5" fill="#ff0a84"/>
<rect x="464.3" y="311.6" width="4.5" height="4.5" fill="#ff0a84"/>
<rect x="470.0" y="311.6" width="4.5" height="4.5" fill="#ff0a84"/>
<rect x="475.6" y="311.6" width="4.5" height="4.5" fill="#ff0a84"/>
</g></g>
<path d="M57.7 11.6 H482.8 M57.7 343.0 H482.8 M58.5 11.6 V343.0 M482.0 11.6 V343.0 M58.5 343.00 h-3.5 M58.5 315.38 h-7.0 M58.5 287.77 h-3.5 M58.5 260.15 h-7.0 M58.5 232.53 h-3.5 M58.5 204.92 h-7.0 M58.5 177.30 h-3.5 M58.5 149.68 h-7.0 M58.5 122.07 h-3.5 M58.5 94.45 h-7.0 M58.5 66.83 h-3.5 M58.5 39.22 h-7.0 M58.5 11.60 h-3.5 M482.0 343.00 h7.0 M482.0 329.19 h3.5 M482.0 315.38 h7.0 M482.0 301.57 h3.5 M482.0 287.77 h7.0 M482.0 273.96 h3.5 M482.0 260.15 h7.0 M482.0 246.34 h3.5 M482.0 232.53 h7.0 M482.0 218.73 h3.5 M482.0 204.92 h7.0 M482.0 191.11 h3.5 M482.0 177.30 h7.0 M482.0 163.49 h3.5 M482.0 149.68 h7.0 M482.0 135.88 h3.5 M482.0 122.07 h7.0 M482.0 108.26 h3.5 M482.0 94.45 h7.0 M482.0 80.64 h3.5 M482.0 66.83 h7.0 M482.0 53.03 h3.5 M482.0 39.22 h7.0 M482.0 25.41 h3.5 M482.0 11.60 h7.0 M72.11 343.0 v7.0 M106.27 343.0 v3.5 M140.43 343.0 v7.0 M174.58 343.0 v3.5 M208.74 343.0 v7.0 M242.90 343.0 v3.5 M277.06 343.0 v7.0 M311.21 343.0 v3.5 M345.37 343.0 v7.0 M379.53 343.0 v3.5 M413.69 343.0 v7.0 M447.84 343.0 v3.5 M482.00 343.0 v7.0" stroke="#000" stroke-width="1.5" fill="none"/>
<g font-family="Liberation Sans, Arial, sans-serif" font-size="14.6" fill="#000"><text x="47.2" y="320.3" text-anchor="end">0</text>
<text x="47.2" y="265.0" text-anchor="end">20</text>
<text x="47.2" y="209.8" text-anchor="end">40</text>
<text x="47.2" y="154.6" text-anchor="end">60</text>
<text x="47.2" y="99.4" text-anchor="end">80</text>
<text x="47.2" y="44.1" text-anchor="end">100</text>
<text x="493.2" y="347.8">-0.2</text>
<text x="493.2" y="320.2">0.0</text>
<text x="493.2" y="292.6">0.2</text>
<text x="493.2" y="264.9">0.4</text>
<text x="493.2" y="237.3">0.6</text>
<text x="493.2" y="209.7">0.8</text>
<text x="493.2" y="182.1">1.0</text>
<text x="493.2" y="154.5">1.2</text>
<text x="493.2" y="126.9">1.4</text>
<text x="493.2" y="99.2">1.6</text>
<text x="493.2" y="71.6">1.8</text>
<text x="493.2" y="44.0">2.0</text>
<text x="493.2" y="16.4">2.2</text>
<text x="72.1" y="365.7" text-anchor="middle">50</text>
<text x="140.4" y="365.7" text-anchor="middle">100</text>
<text x="208.7" y="365.7" text-anchor="middle">150</text>
<text x="277.1" y="365.7" text-anchor="middle">200</text>
<text x="345.4" y="365.7" text-anchor="middle">250</text>
<text x="413.7" y="365.7" text-anchor="middle">300</text>
<text x="482.0" y="365.7" text-anchor="middle">350</text></g>
<g font-family="Liberation Sans, Arial, sans-serif" font-size="17.3" fill="#000">
<text x="213.6" y="385.5" textLength="137.7" lengthAdjust="spacingAndGlyphs">Temperature (°C)</text>
<text transform="translate(20.8 179) rotate(-90)" text-anchor="middle">Weight (%)</text>
<text transform="translate(538.6 176.85) rotate(-90)" text-anchor="middle">Deriv. Weight (%/°C)</text>
<text x="124.2" y="122.9" textLength="67.2" lengthAdjust="spacingAndGlyphs">CCU 1:2</text>
<text x="124.2" y="144.1" textLength="67.2" lengthAdjust="spacingAndGlyphs">CCU 1:3</text>
<text x="124.2" y="165.2" textLength="67.2" lengthAdjust="spacingAndGlyphs">CCU 1:4</text>
<text x="124.2" y="186.3" textLength="67.2" lengthAdjust="spacingAndGlyphs">CCU 1:5</text>
</g>
<path d="M79.7 117.1 H119.5" stroke="#b0b0b0" stroke-width="1" fill="none"/>
<circle cx="99.5" cy="117.1" r="2.55" fill="#747474"/>
<path d="M79.7 138.3 H119.5" stroke="#6be0e0" stroke-width="1" fill="none"/>
<circle cx="99.5" cy="138.3" r="2.0" fill="#fff" stroke="#1fcfcf" stroke-width="1.1"/>
<path d="M79.7 159.4 H119.5" stroke="#b784f8" stroke-width="1" fill="none"/>
<rect x="97.2" y="157.2" width="4.5" height="4.5" fill="#7d12f0"/>
<path d="M79.7 180.5 H119.5" stroke="#ff74b6" stroke-width="1" fill="none"/>
<rect x="97.2" y="178.2" width="4.5" height="4.5" fill="#ff0a84"/>
<g font-family="Liberation Serif, Times New Roman, serif" font-weight="bold" font-size="9.2" fill="#111">
<text x="66.4" y="121.7">A</text>
<text x="66.4" y="141.3">B</text>
<text x="66.4" y="161.0">C</text>
<text x="66.4" y="180.8">D</text>
</g>
</svg>
</body></html>
